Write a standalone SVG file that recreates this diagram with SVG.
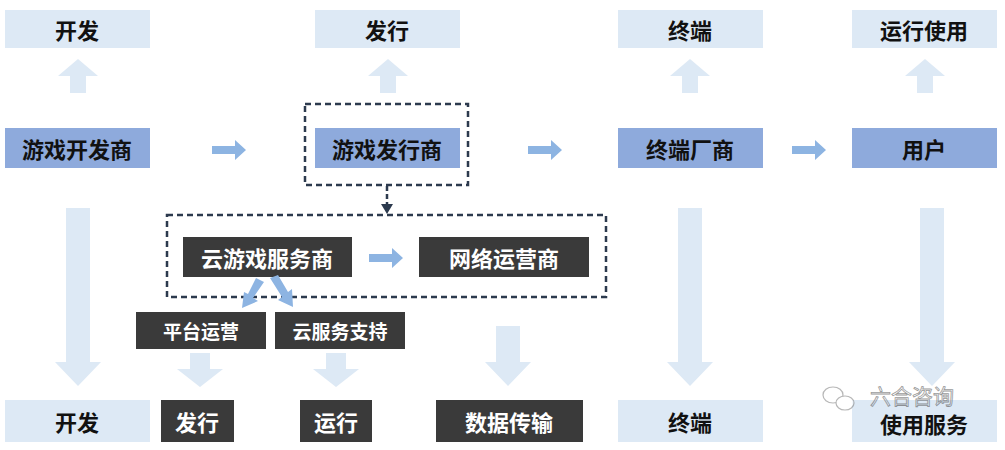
<svg xmlns="http://www.w3.org/2000/svg" width="1005" height="450" viewBox="0 0 1005 450">
<style>
.l{fill:#dde9f5}.m{fill:#8eaadc}.d{fill:#3a3a3a}
.t{font-family:"Noto Sans CJK SC",sans-serif;font-weight:bold;font-size:22px;text-anchor:middle;dominant-baseline:central;fill:#111}
.w{fill:#fff}
.la{fill:#dde9f5}.ba{fill:#8db4e2}
.dash{fill:none;stroke:#2c3a4e;stroke-width:2.5;stroke-dasharray:6 4}
</style>
<rect width="1005" height="450" fill="#fff"/>
<g id="top">
<g id="n1"><rect class="l" x="5" y="10" width="145" height="38"/><text class="t" x="77" y="29">开发</text></g>
<g id="n2"><rect class="l" x="315" y="10" width="145" height="38"/><text class="t" x="387" y="29">发行</text></g>
<g id="n3"><rect class="l" x="618" y="10" width="145" height="38"/><text class="t" x="690" y="29">终端</text></g>
<g id="n4"><rect class="l" x="852" y="10" width="145" height="38"/><text class="t" x="924" y="29">运行使用</text></g>
</g>
<g id="row2">
<g id="n5"><rect class="m" x="5" y="128" width="145" height="40"/><text class="t" x="77" y="148">游戏开发商</text></g>
<g id="n6"><rect class="m" x="315" y="128" width="145" height="40"/><text class="t" x="387" y="148">游戏发行商</text></g>
<g id="n7"><rect class="m" x="618" y="128" width="145" height="40"/><text class="t" x="690" y="148">终端厂商</text></g>
<g id="n8"><rect class="m" x="852" y="128" width="145" height="40"/><text class="t" x="924" y="148">用户</text></g>
</g>
<g id="mid">
<g id="n9"><rect class="d" x="183" y="237" width="169" height="40"/><text class="t w" x="267" y="257">云游戏服务商</text></g>
<g id="n10"><rect class="d" x="419" y="237" width="170" height="40"/><text class="t w" x="504" y="257">网络运营商</text></g>
<g id="n11"><rect class="d" x="136" y="312" width="130" height="37"/><text class="t w" x="201" y="330" style="font-size:19px">平台运营</text></g>
<g id="n12"><rect class="d" x="275" y="312" width="130" height="37"/><text class="t w" x="340" y="330" style="font-size:19px">云服务支持</text></g>
</g>
<g id="bottom">
<g id="n13"><rect class="l" x="5" y="400" width="145" height="42"/><text class="t" x="77" y="421">开发</text></g>
<g id="n14"><rect class="d" x="161" y="400" width="73" height="42"/><text class="t w" x="197" y="421">发行</text></g>
<g id="n15"><rect class="d" x="300" y="400" width="72" height="42"/><text class="t w" x="336" y="421">运行</text></g>
<g id="n16"><rect class="d" x="436" y="400" width="147" height="42"/><text class="t w" x="509" y="421">数据传输</text></g>
<g id="n17"><rect class="l" x="618" y="400" width="145" height="42"/><text class="t" x="690" y="421">终端</text></g>
<g id="n18"><rect class="l" x="852" y="400" width="145" height="42"/><text class="t" x="924" y="423">使用服务</text></g>
</g>
<g id="connectors">
<rect class="dash" x="305" y="104" width="163" height="81"/>
<rect class="dash" x="167" y="215" width="439" height="82"/>
<line x1="387" y1="186" x2="387" y2="206" stroke="#2c3a4e" stroke-width="2.5" stroke-dasharray="5 3"/>
<path d="M381,204 L393,204 L387,214 Z" fill="#2c3a4e"/>
<path class="la" d="M70,93 V76 H58 L78,59 L98,76 H86 V93 Z"/>
<path class="la" d="M380,93 V76 H368 L388,59 L408,76 H396 V93 Z"/>
<path class="la" d="M682,93 V76 H670 L690,59 L710,76 H698 V93 Z"/>
<path class="la" d="M917,93 V76 H905 L925,59 L945,76 H933 V93 Z"/>
<path class="ba" d="M212,146 H235 V140 L246,150 L235,160 V154 H212 Z"/>
<path class="ba" d="M528,146 H551 V140 L562,150 L551,160 V154 H528 Z"/>
<path class="ba" d="M792,146 H815 V140 L826,150 L815,160 V154 H792 Z"/>
<path class="ba" d="M369,254 H392 V248 L403,258 L392,268 V262 H369 Z"/>
<path class="ba" d="M256,278 L264,282 L253,298 L258,301 L242,308 L244,292 L248,294 Z"/>
<path class="ba" d="M270,278 L278,275 L288,292 L292,289 L293,307 L278,300 L282,297 Z"/>
<path class="la" d="M66,208 H90 V362 H101 L78,386 L55,362 H66 Z"/>
<path class="la" d="M678,208 H702 V362 H713 L690,386 L667,362 H678 Z"/>
<path class="la" d="M920,208 H944 V362 H955 L932,386 L909,362 H920 Z"/>
<path class="la" d="M496,326 H520 V362 H531 L508,386 L485,362 H496 Z"/>
<path class="la" d="M190,353 H210 V369 H223 L200,387 L177,369 H190 Z"/>
<path class="la" d="M326,353 H346 V369 H359 L336,387 L313,369 H326 Z"/>
</g>
<g id="watermark" opacity="0.6">
<ellipse cx="833" cy="395" rx="10" ry="8" fill="none" stroke="#888" stroke-width="1.2"/>
<ellipse cx="845" cy="403" rx="9" ry="7" fill="#fff" stroke="#888" stroke-width="1.2"/>
<text x="870" y="404" style="font-family:'Noto Sans CJK SC',sans-serif;font-size:21px;fill:none;stroke:#555;stroke-width:0.8">六合咨询</text>
</g>
</svg>
